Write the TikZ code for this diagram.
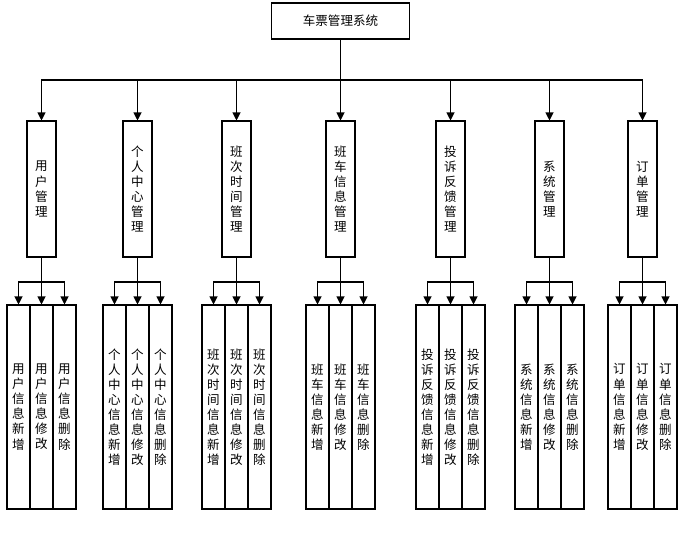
\documentclass[tikz,border=0pt]{standalone}
\usepackage{fontspec}
\setmainfont{Noto Sans CJK SC}
\usetikzlibrary{arrows.meta}
\begin{document}
\begin{tikzpicture}[x=0.75pt,y=-0.75pt,
  box/.style={draw=black,line width=0.8pt,inner sep=0pt,align=center,fill=white,
    font=\fontsize{9.4}{11.3}\selectfont},
  topbox/.style={box,minimum width=103.5pt,minimum height=27pt},
  midbox/.style={box,minimum width=21.75pt,minimum height=102pt},
  leafbox/.style={box,minimum width=17.25pt,minimum height=153pt},
  arr/.style={line width=0.8pt,-{Triangle[length=6pt,width=6pt]}}]
\useasboundingbox (0,0) rectangle (692,532);
\coordinate (bus) at (0,80);
\coordinate (br) at (0,282);
\node[topbox] (root) at (340.5,21) {车票管理系统};
\foreach \i/\x/\mt/\lt in {
  1/41.5/{用\\户\\管\\理}/{用\\户},
  2/137.5/{个\\人\\中\\心\\管\\理}/{个\\人\\中\\心},
  3/236.5/{班\\次\\时\\间\\管\\理}/{班\\次\\时\\间},
  4/340.5/{班\\车\\信\\息\\管\\理}/{班\\车},
  5/450.5/{投\\诉\\反\\馈\\管\\理}/{投\\诉\\反\\馈},
  6/549.5/{系\\统\\管\\理}/{系\\统},
  7/642.5/{订\\单\\管\\理}/{订\\单}}{
  \node[midbox] (m\i) at (\x,189) {\mt};
  \node[leafbox] (l\i-1) at (\x-23,407) {\lt\\信\\息\\新\\增};
  \node[leafbox] (l\i-2) at (\x,407) {\lt\\信\\息\\修\\改};
  \node[leafbox] (l\i-3) at (\x+23,407) {\lt\\信\\息\\删\\除};
  \draw[arr] (root.south) -- (root.south |- bus) -| (m\i.north);
  \draw[arr] (m\i.south) -- (m\i.south |- br) -| (l\i-1.north);
  \draw[arr] (m\i.south) -- (l\i-2.north);
  \draw[arr] (m\i.south) -- (m\i.south |- br) -| (l\i-3.north);
}
\end{tikzpicture}
\end{document}
